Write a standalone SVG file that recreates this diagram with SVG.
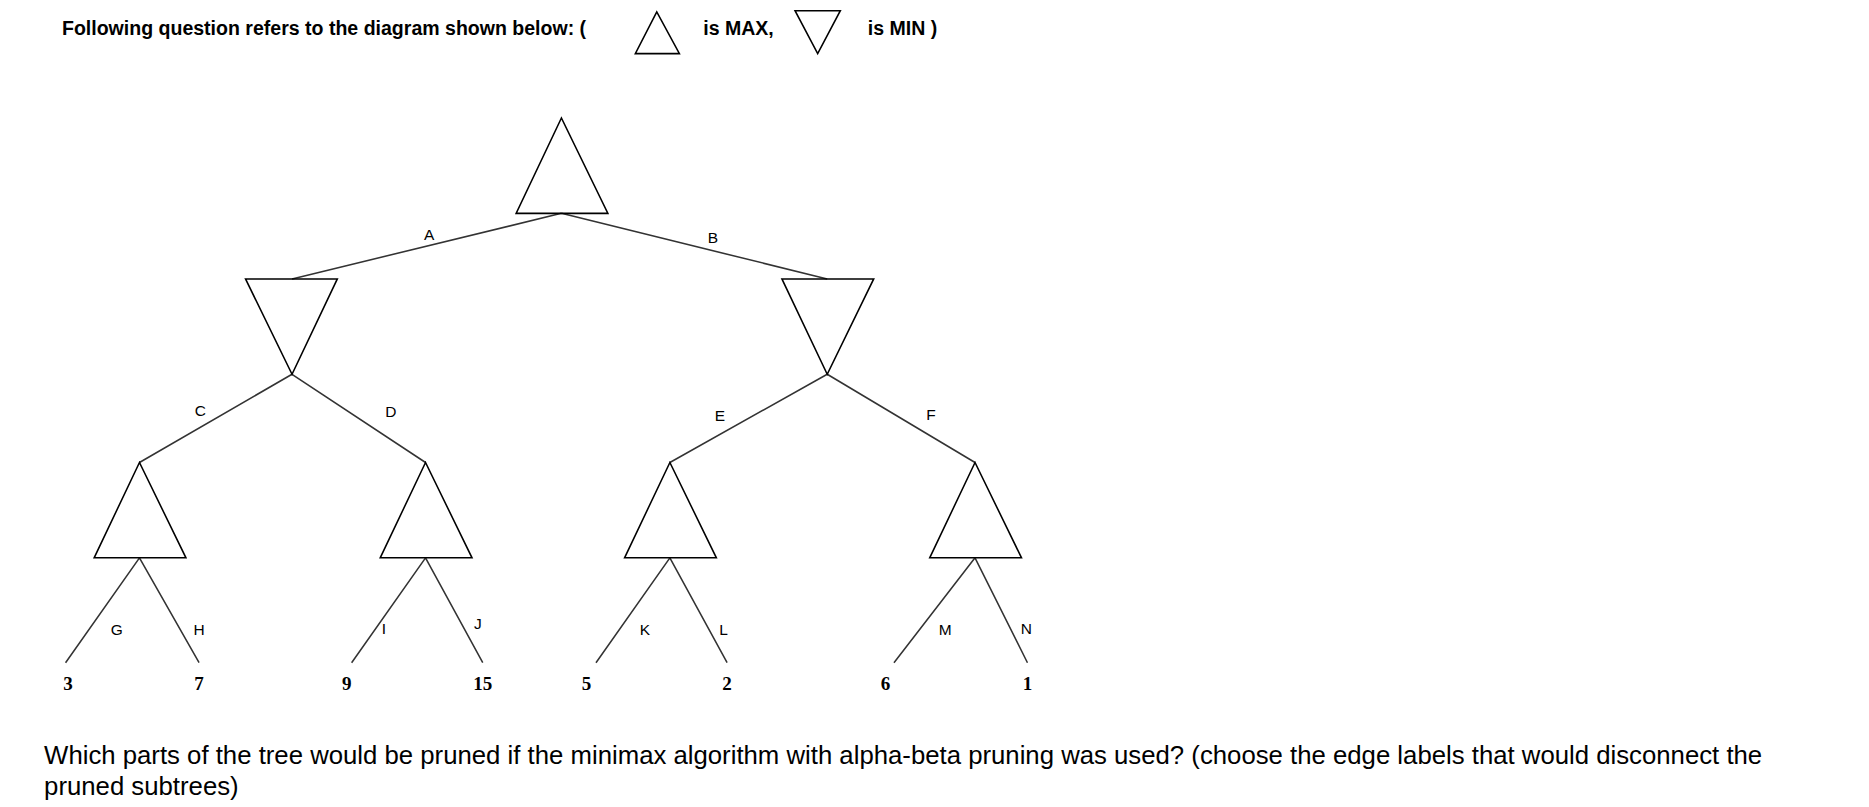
<svg xmlns="http://www.w3.org/2000/svg" width="1869" height="807" viewBox="0 0 1869 807">
<style>
.n{fill:none;stroke:#000;stroke-width:1.3}
.e{stroke:#333;stroke-width:1.3;fill:none}
.l{font-family:"Liberation Sans",Arial,sans-serif;font-size:13px;text-anchor:middle}
.v{font-family:"Liberation Serif","Times New Roman",serif;font-size:16px;font-weight:bold;text-anchor:middle}
.h{font-family:"Liberation Sans",Arial,sans-serif;font-size:16.4px;font-weight:bold}
.q{font-family:"Liberation Sans",Arial,sans-serif;font-size:21.6px}
</style>
<rect width="1869" height="807" fill="#fff"/>
<g transform="scale(1.19196)">
<g id="header">
<text class="h" x="52" y="29">Following question refers to the diagram shown below: (</text>
<polygon class="n" points="551,10 533,45 570,45"/>
<text class="h" x="590" y="29">is MAX,</text>
<polygon class="n" points="667,9 705,9 686,45"/>
<text class="h" x="728" y="29">is MIN  )</text>
</g>
<g id="connectors">
<path class="e" d="M471,179L245,234M471,179L694,234M245,314L117,388M245,314L357,388M694,314L562,388M694,314L818,388M117,468L55,556M117,468L167,556M357,468L295,556M357,468L405,556M562,468L500,556M562,468L610,556M818,468L750,556M818,468L862,556"/>
<text class="l" x="360" y="201">A</text><text class="l" x="598" y="204">B</text>
<text class="l" x="168" y="349">C</text><text class="l" x="328" y="350">D</text>
<text class="l" x="604" y="353">E</text><text class="l" x="781" y="352">F</text>
<text class="l" x="98" y="533">G</text><text class="l" x="167" y="533">H</text>
<text class="l" x="322" y="532">I</text><text class="l" x="401" y="528">J</text>
<text class="l" x="541" y="533">K</text><text class="l" x="607" y="533">L</text>
<text class="l" x="793" y="533">M</text><text class="l" x="861" y="532">N</text>
</g>
<g id="root"><polygon class="n" points="471,99 433,179 510,179"/></g>
<g id="minA"><polygon class="n" points="206,234 283,234 245,314"/></g>
<g id="minB"><polygon class="n" points="656,234 733,234 694,314"/></g>
<g id="maxC"><polygon class="n" points="117,388 79,468 156,468"/></g>
<g id="maxD"><polygon class="n" points="357,388 319,468 396,468"/></g>
<g id="maxE"><polygon class="n" points="562,388 524,468 601,468"/></g>
<g id="maxF"><polygon class="n" points="818,388 780,468 857,468"/></g>
<g id="leaves">
<text class="v" x="57" y="579">3</text><text class="v" x="167" y="579">7</text>
<text class="v" x="291" y="579">9</text><text class="v" x="405" y="579">15</text>
<text class="v" x="492" y="579">5</text><text class="v" x="610" y="579">2</text>
<text class="v" x="743" y="579">6</text><text class="v" x="862" y="579">1</text>
</g>
<g id="question">
<text class="q" x="37" y="641">Which parts of the tree would be pruned if the minimax algorithm with alpha-beta pruning was used? (choose the edge labels that would disconnect the</text>
<text class="q" x="37" y="667">pruned subtrees)</text>
</g>
</g>
</svg>
